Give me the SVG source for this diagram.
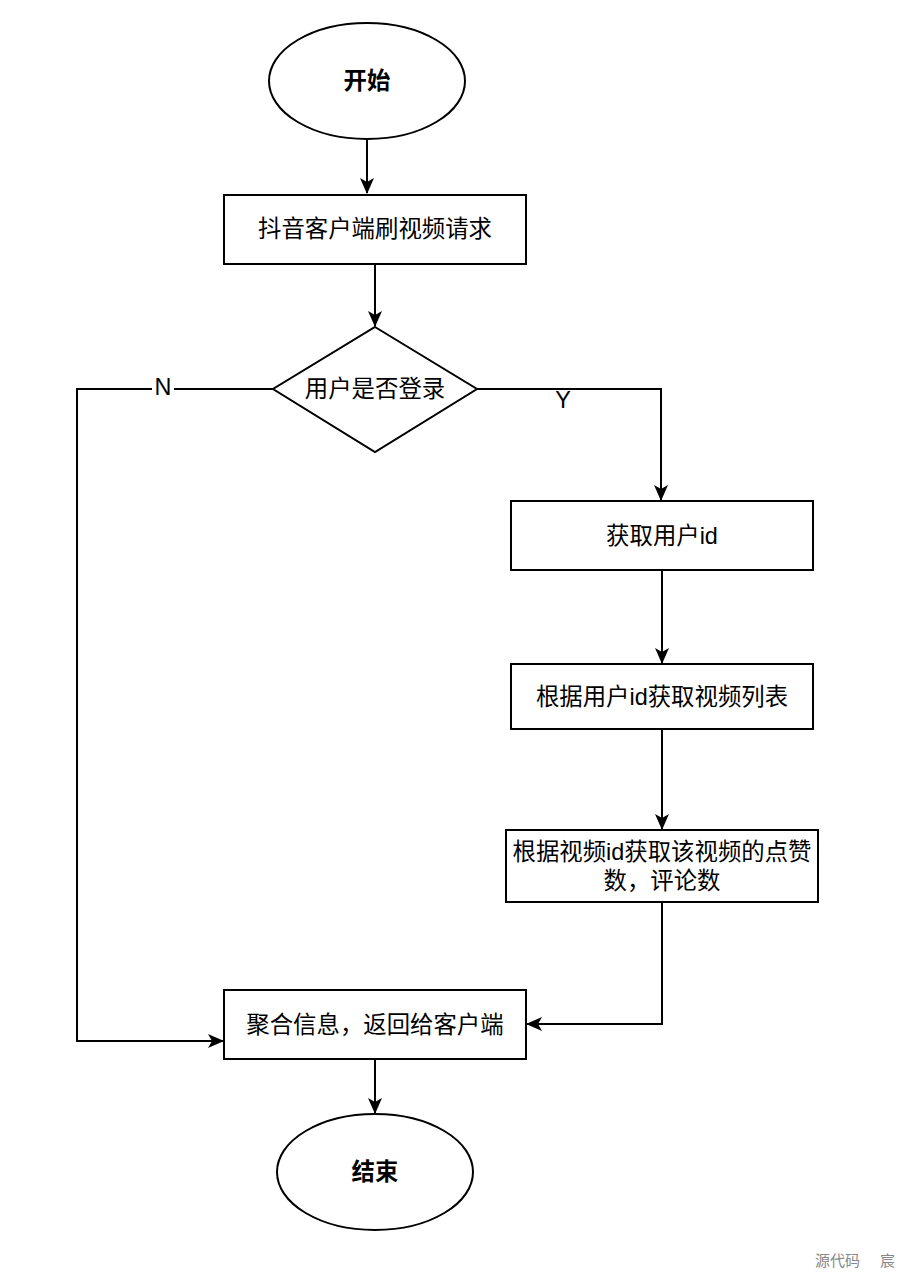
<svg xmlns="http://www.w3.org/2000/svg" width="906" height="1280" viewBox="0 0 906 1280">
<style>
.s{fill:#fff;stroke:#000;stroke-width:2}
.c{fill:none;stroke:#000;stroke-width:2}
.t{font-family:"Liberation Sans","Noto Sans CJK SC",sans-serif;font-size:23.4px;fill:#000;text-anchor:middle;dominant-baseline:central}
.b{font-weight:bold}
.w{font-family:"Liberation Sans","Noto Sans CJK SC",sans-serif;font-size:15px;fill:#888}
</style>
<defs>
<marker id="a" markerWidth="16" markerHeight="16" viewBox="0 0 16 16" refX="15" refY="8" orient="auto" markerUnits="userSpaceOnUse">
<path d="M0,1 L16,8 L0,15 L4,8 Z" fill="#000"/>
</marker>
</defs>
<rect width="906" height="1280" fill="#fff"/>
<g id="connectors">
<path class="c" d="M367,139 V193" marker-end="url(#a)"/>
<path class="c" d="M375,264 V326" marker-end="url(#a)"/>
<path class="c" d="M273,389 H77 V1041 H223" marker-end="url(#a)"/>
<path class="c" d="M477,389 H661 V500" marker-end="url(#a)"/>
<path class="c" d="M662,570 V663" marker-end="url(#a)"/>
<path class="c" d="M662,729 V829" marker-end="url(#a)"/>
<path class="c" d="M662,902 V1024 H527" marker-end="url(#a)"/>
<path class="c" d="M375,1059 V1113" marker-end="url(#a)"/>
<rect x="152" y="376" width="22" height="22" fill="#fff"/>
<text class="t" x="163" y="387">N</text>
<rect x="553" y="390" width="20" height="22" fill="#fff"/>
<text class="t" x="563" y="400">Y</text>
</g>
<g id="start">
<ellipse class="s" cx="367" cy="81" rx="98" ry="58"/>
<text class="t b" x="367" y="81">开始</text>
</g>
<g id="request">
<rect class="s" x="224" y="195" width="302" height="69"/>
<text class="t" x="375" y="229">抖音客户端刷视频请求</text>
</g>
<g id="decision">
<polygon class="s" points="375,327 477,389 375,452 273,389"/>
<text class="t" x="375" y="389">用户是否登录</text>
</g>
<g id="getuid">
<rect class="s" x="511" y="501" width="302" height="69"/>
<text class="t" x="662" y="536">获取用户id</text>
</g>
<g id="videolist">
<rect class="s" x="511" y="664" width="302" height="65"/>
<text class="t" x="662" y="697">根据用户id获取视频列表</text>
</g>
<g id="counts">
<rect class="s" x="506" y="830" width="312" height="72"/>
<text class="t" x="662" y="852">根据视频id获取该视频的点赞</text>
<text class="t" x="662" y="881">数，评论数</text>
</g>
<g id="aggregate">
<rect class="s" x="224" y="990" width="302" height="69"/>
<text class="t" x="375" y="1025">聚合信息，返回给客户端</text>
</g>
<g id="end">
<ellipse class="s" cx="375" cy="1172" rx="98" ry="58"/>
<text class="t b" x="375" y="1172">结束</text>
</g>
<text class="w" x="815" y="1266">源代码</text>
<text class="w" x="880" y="1266">宸</text>
</svg>
